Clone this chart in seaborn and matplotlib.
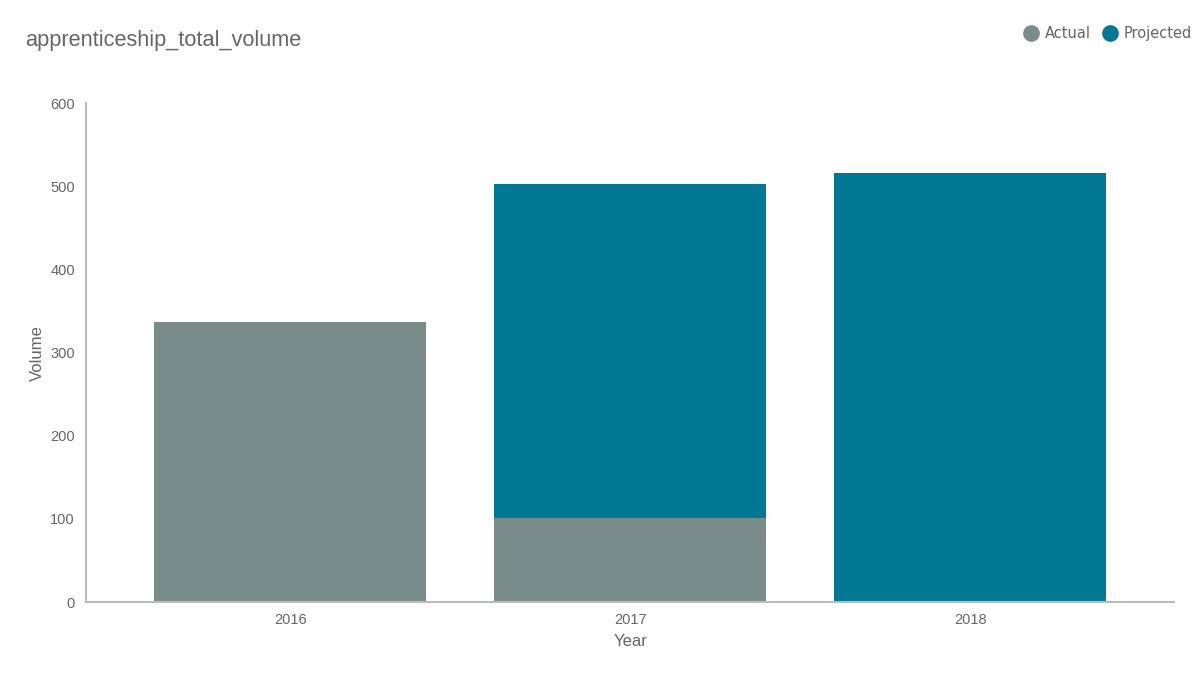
import matplotlib
matplotlib.use("Agg")
import matplotlib.pyplot as plt
from matplotlib.lines import Line2D
import pandas as pd
import seaborn as sns

years = ["2016", "2017", "2018"]
actual = [337, 101, 0]
projected = [0, 402, 516]

col_actual = "#7a8c8a"
col_proj = "#007894"
txt = "#666666"

sns.set_theme(style="white")
plt.rcParams["font.family"] = ["Liberation Sans", "DejaVu Sans"]

df = pd.DataFrame({"Year": years, "Actual": actual, "Projected": projected})
df["Total"] = df["Actual"] + df["Projected"]

fig = plt.figure(figsize=(12, 6.75), dpi=100)
ax = fig.add_axes([0.0717, 0.108, 0.907, 0.739])

# stacked: total first (projected colour), actual drawn over the bottom part
sns.barplot(data=df, x="Year", y="Total", color=col_proj, width=0.8,
            saturation=1, linewidth=0, ax=ax)
sns.barplot(data=df, x="Year", y="Actual", color=col_actual, width=0.8,
            saturation=1, linewidth=0, ax=ax)

ax.set_xlim(-0.6, 2.6)
ax.set_ylim(0, 600)
ax.set_yticks([0, 100, 200, 300, 400, 500, 600])
ax.tick_params(axis="both", length=0, labelsize=10.5, colors=txt, pad=8)
ax.set_xlabel("Year", fontsize=12, color=txt, labelpad=5)
ax.set_ylabel("Volume", fontsize=12, color=txt, labelpad=4)
for s in ["top", "right"]:
    ax.spines[s].set_visible(False)
for s in ["left", "bottom"]:
    ax.spines[s].set_color("#bbbbbb")
    ax.spines[s].set_linewidth(1.5)

fig.text(0.021, 0.94, "apprenticeship_total_volume", fontsize=15.7,
         color=txt, va="center")

handles = [
    Line2D([], [], marker="o", linestyle="", markersize=11,
           color=col_actual, label="Actual"),
    Line2D([], [], marker="o", linestyle="", markersize=11,
           color=col_proj, label="Projected"),
]
leg = fig.legend(handles=handles, loc="center right",
                 bbox_to_anchor=(1.004, 0.95), ncol=2, frameon=False,
                 handletextpad=0.25, columnspacing=0.6, handlelength=1.4,
                 fontsize=10.5)
for t in leg.get_texts():
    t.set_color(txt)
    t.set_family("DejaVu Sans")

fig.savefig("out.png", dpi=100)
